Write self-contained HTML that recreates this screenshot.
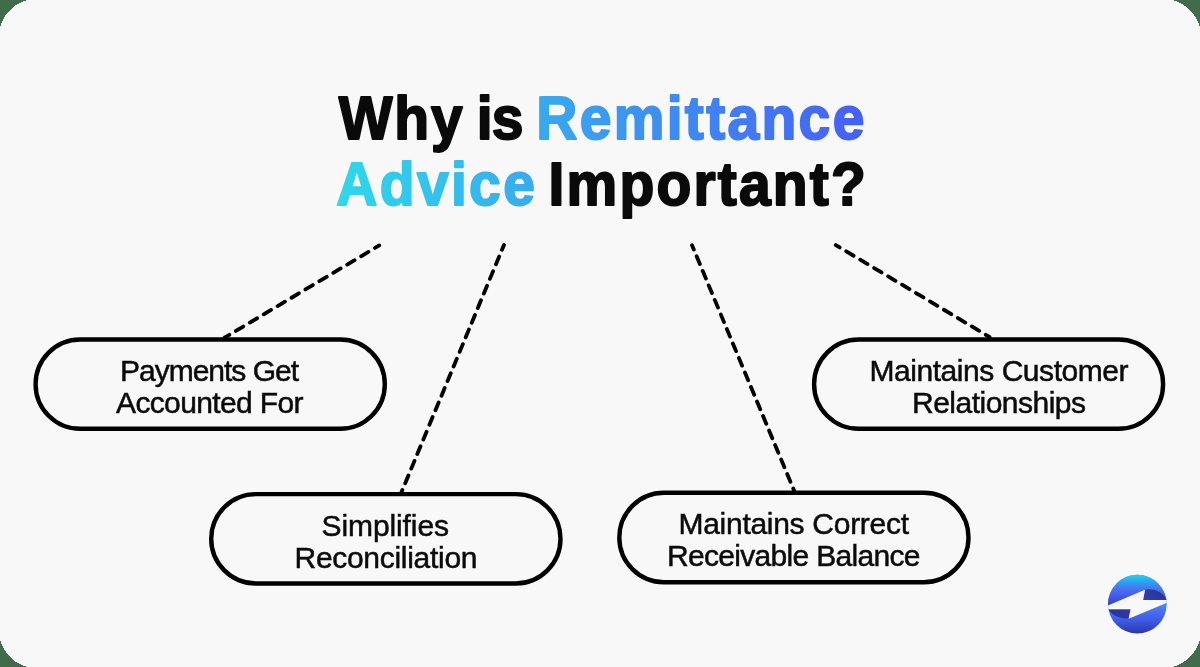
<!DOCTYPE html>
<html>
<head>
<meta charset="utf-8">
<style>
html,body{margin:0;padding:0;width:1200px;height:667px;overflow:hidden;background:#406c4a;}
svg{display:block;will-change:transform;}
text{font-family:"Liberation Sans", sans-serif;}
.t{font-weight:bold;font-size:62px;fill:#0a0a0a;stroke:#0a0a0a;stroke-width:2px;stroke-linejoin:round;}
.b{font-size:30px;fill:#0b0b0b;stroke:#0b0b0b;stroke-width:0.5px;}
</style>
</head>
<body>
<svg width="1200" height="667" viewBox="0 0 1200 667">
<defs>
<linearGradient id="tg" gradientUnits="userSpaceOnUse" x1="338" y1="0" x2="863" y2="0">
<stop offset="0" stop-color="#2fd8ea"/>
<stop offset="1" stop-color="#4660f4"/>
</linearGradient>
<linearGradient id="lgTop" gradientUnits="userSpaceOnUse" x1="0" y1="575" x2="0" y2="606">
<stop offset="0" stop-color="#18d2f0"/>
<stop offset="0.26" stop-color="#3399f2"/>
<stop offset="0.48" stop-color="#4a6ef2"/>
<stop offset="0.7" stop-color="#4558e6"/>
<stop offset="1" stop-color="#3242c4"/>
</linearGradient>
<linearGradient id="lgBot" gradientUnits="userSpaceOnUse" x1="0" y1="602" x2="0" y2="634">
<stop offset="0" stop-color="#4a90f6"/>
<stop offset="0.3" stop-color="#4870f0"/>
<stop offset="0.62" stop-color="#3c58e0"/>
<stop offset="1" stop-color="#2834a6"/>
</linearGradient>
<linearGradient id="lgTab" gradientUnits="userSpaceOnUse" x1="1166" y1="590" x2="1140" y2="610">
<stop offset="0" stop-color="#27338e"/>
<stop offset="1" stop-color="#3444be"/>
</linearGradient>
<linearGradient id="lgTab2" gradientUnits="userSpaceOnUse" x1="1130" y1="609" x2="1112" y2="618">
<stop offset="0" stop-color="#2d3ba6"/>
<stop offset="1" stop-color="#283596"/>
</linearGradient>
<linearGradient id="tgR" gradientUnits="userSpaceOnUse" x1="-215.4" y1="0" x2="355.2" y2="0">
<stop offset="0" stop-color="#2fd8ea"/>
<stop offset="1" stop-color="#4660f4"/>
</linearGradient>
<linearGradient id="tgA" gradientUnits="userSpaceOnUse" x1="1.85" y1="0" x2="572.5" y2="0">
<stop offset="0" stop-color="#2fd8ea"/>
<stop offset="1" stop-color="#4660f4"/>
</linearGradient>
<clipPath id="circ"><circle cx="1137.35" cy="604.2" r="29.35"/></clipPath>
</defs>
<path d="M0.00 29.20 L0.15 27.60 L0.61 25.50 L1.35 23.19 L2.39 20.76 L3.69 18.30 L5.24 15.85 L7.02 13.45 L9.01 11.16 L11.16 9.01 L13.45 7.02 L15.85 5.24 L18.30 3.69 L20.76 2.39 L23.19 1.35 L25.50 0.61 L27.60 0.15 L29.20 0.00 L1170.80 0.00 L1172.40 0.15 L1174.50 0.61 L1176.81 1.35 L1179.24 2.39 L1181.70 3.69 L1184.15 5.24 L1186.55 7.02 L1188.84 9.01 L1190.99 11.16 L1192.98 13.45 L1194.76 15.85 L1196.31 18.30 L1197.61 20.76 L1198.65 23.19 L1199.39 25.50 L1199.85 27.60 L1200.00 29.20 L1200.00 637.80 L1199.85 639.40 L1199.39 641.50 L1198.65 643.81 L1197.61 646.24 L1196.31 648.70 L1194.76 651.15 L1192.98 653.55 L1190.99 655.84 L1188.84 657.99 L1186.55 659.98 L1184.15 661.76 L1181.70 663.31 L1179.24 664.61 L1176.81 665.65 L1174.50 666.39 L1172.40 666.85 L1170.80 667.00 L29.20 667.00 L27.60 666.85 L25.50 666.39 L23.19 665.65 L20.76 664.61 L18.30 663.31 L15.85 661.76 L13.45 659.98 L11.16 657.99 L9.01 655.84 L7.02 653.55 L5.24 651.15 L3.69 648.70 L2.39 646.24 L1.35 643.81 L0.61 641.50 L0.15 639.40 L0.00 637.80 Z" fill="#f8f8f8" shape-rendering="crispEdges"/>

<!-- title -->
<text class="t" transform="matrix(0.92 0 0 1 338.7 0)" x="0" y="138.6" textLength="134.89" lengthAdjust="spacing">Why</text>
<text class="t" transform="matrix(0.92 0 0 1 476.7 0)" x="0" y="138.6" textLength="50.76" lengthAdjust="spacing">is</text>
<text class="t" transform="matrix(0.92 0 0 1 536.2 0)" x="0" y="138.6" textLength="356.72" lengthAdjust="spacing" style="fill:url(#tgR);stroke:url(#tgR)">Remittance</text>
<text class="t" transform="matrix(0.92 0 0 1 336.3 0)" x="0" y="205" textLength="215.87" lengthAdjust="spacing" style="fill:url(#tgA);stroke:url(#tgA)">Advice</text>
<text class="t" transform="matrix(0.92 0 0 1 548.54 0)" x="0" y="205" textLength="344.83" lengthAdjust="spacing">Important?</text>

<!-- dashed connectors -->
<g stroke="#000" stroke-width="3.8" stroke-linecap="round" fill="none">
<path d="M379.24 245.47 L224.5 337.7" stroke-dasharray="8.55 7.65" stroke-dashoffset="3.65"/>
<path d="M504 244.9 L400.7 494.1" stroke-dasharray="8.4 7.4" stroke-dashoffset="3.2"/>
<path d="M692 245.2 L795 492.8" stroke-dasharray="8.36 7.36" stroke-dashoffset="3.66"/>
<path d="M835.8 245.1 L989.5 337" stroke-dasharray="8.6 7.66" stroke-dashoffset="4.1"/>
</g>

<!-- boxes -->
<g stroke="#000" stroke-width="4.4" fill="none">
<rect x="35.6" y="339.5" width="349.2" height="89.3" rx="44.65"/>
<rect x="211.2" y="494.1" width="349.3" height="89.4" rx="44.7"/>
<rect x="619.3" y="492.8" width="349.2" height="89.4" rx="44.7"/>
<rect x="814.1" y="339.5" width="349" height="89.3" rx="44.65"/>
</g>

<text class="b" x="120" y="381.25" textLength="179" lengthAdjust="spacing">Payments Get</text>
<text class="b" x="116" y="413.25" textLength="187.5" lengthAdjust="spacing">Accounted For</text>
<text class="b" x="321.5" y="535.8" textLength="127.5" lengthAdjust="spacing">Simplifies</text>
<text class="b" x="294.5" y="567.65" textLength="183" lengthAdjust="spacing">Reconciliation</text>
<text class="b" x="678.5" y="534.45" textLength="230.5" lengthAdjust="spacing">Maintains Correct</text>
<text class="b" x="667" y="566.35" textLength="253.5" lengthAdjust="spacing">Receivable Balance</text>
<text class="b" x="869.5" y="380.95" textLength="259" lengthAdjust="spacing">Maintains Customer</text>
<text class="b" x="912" y="413.15" textLength="174" lengthAdjust="spacing">Relationships</text>

<!-- logo -->
<g clip-path="url(#circ)">
<rect x="1100" y="570" width="80" height="70" fill="url(#lgBot)"/>
<path d="M1100 550 L1180 550 L1180 599.9 L1143.1 599.9 L1145.1 589.8 L1100 608.85 Z" fill="url(#lgTop)"/>
<path d="M1145.1 589.8 C1153 588.2 1162 591 1166.6 599.9 L1143.1 599.9 Z" fill="url(#lgTab)"/>
<path d="M1128.6 618.6 C1120 618.6 1111.5 615.5 1108.3 609.3 L1130.6 609.3 Z" fill="url(#lgTab2)"/>
<path d="M1100 608.85 L1145.1 589.8 L1143.1 599.9 L1172 599.9 L1172 600.8 L1128.6 618.7 L1130.6 609.3 L1100 609.3 Z" fill="#f8f8f8"/>
</g>
</svg>
</body>
</html>
